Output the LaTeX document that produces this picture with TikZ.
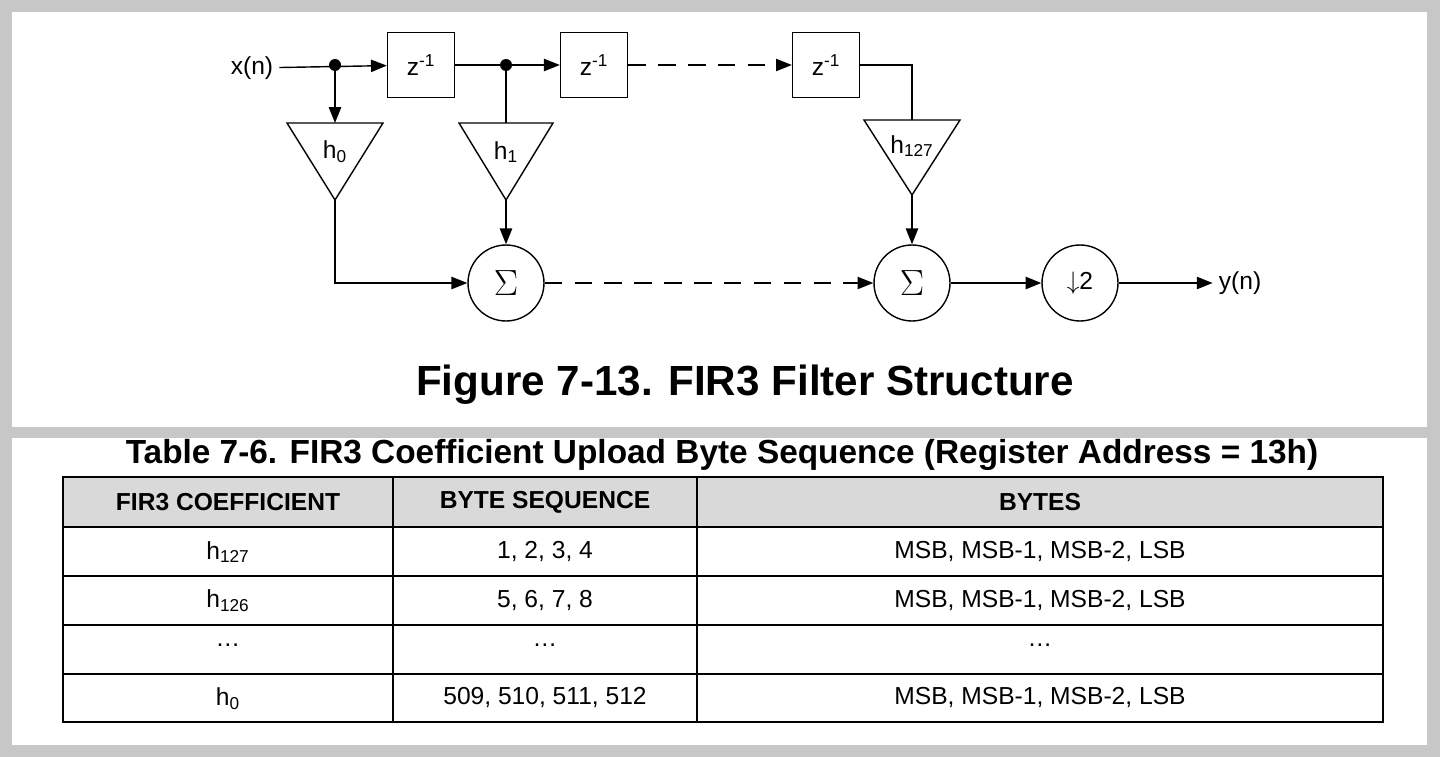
\documentclass[tikz,border=0pt]{standalone}
\usepackage{fontspec}
\setmainfont{Liberation Sans}
\usetikzlibrary{positioning,arrows.meta}
\begin{document}
\begin{tikzpicture}[x=0.02cm,y=-0.02cm,>={Triangle[length=9pt,width=7pt]},
    every node/.style={font=\fontsize{14}{16}\selectfont},
    delay/.style={draw,thick,minimum width=1.34cm,minimum height=1.3cm,inner sep=0pt},
    adder/.style={draw,thick,circle,minimum size=1.52cm,inner sep=0pt},
    tap/.style={thick},
    cell/.style={font=\fontsize{14}{16}\selectfont}]
  \fill[black!22] (0,0) rectangle (1440,757);
  \fill[white] (12,12) rectangle (1427,427);
  \fill[white] (12,438) rectangle (1427,745);

  % delay line
  \node (xn) at (252,68) {x(n)};
  \coordinate (d0) at (335,65);
  \coordinate (d1) at (506,65);
  \node[delay] (z1) at (421,65) {z\textsuperscript{-1}};
  \node[delay] (z2) at (594,65) {z\textsuperscript{-1}};
  \node[delay] (z3) at (826,65) {z\textsuperscript{-1}};
  \coordinate (c3) at (912,65);

  % taps
  \draw[tap] (287,123) -- (383,123) -- (335,200) -- cycle;
  \node (h0) at (335,152) {h\textsubscript{0}};
  \coordinate (h0t) at (335,123); \coordinate (h0b) at (335,200);
  \draw[tap] (459,123) -- (553,123) -- (506,200) -- cycle;
  \node (h1) at (506,152) {h\textsubscript{1}};
  \coordinate (h1t) at (506,123); \coordinate (h1b) at (506,200);
  \draw[tap] (864,120) -- (960,120) -- (912,195) -- cycle;
  \node (h127) at (912,146) {h\textsubscript{127}};
  \coordinate (h2t) at (912,120); \coordinate (h2b) at (912,195);

  % adders
  \node[adder] (s1) at (506,283) {\fontsize{20}{20}\selectfont$\Sigma$};
  \node[adder] (s2) at (912,283) {\fontsize{20}{20}\selectfont$\Sigma$};
  \node[adder] (dec) at (1080,283) {$\downarrow$2};
  \node (yn) at (1240,283) {y(n)};

  % connections
  \draw[thick,->] (xn) -- (z1);
  \fill (d0) circle (6); \fill (d1) circle (6);
  \draw[thick,->] (d0) -- (h0t);
  \draw[thick,->] (z1) -- (z2);
  \draw[thick] (d1) -- (h1t);
  \draw[thick,dashed,dash pattern=on 10pt off 7pt,->] (z2) -- (z3);
  \draw[thick] (z3.east) -- (c3) -- (h2t);
  \draw[thick,->] (h0b) |- (s1);
  \draw[thick,->] (h1b) -- (s1);
  \draw[thick,->] (h2b) -- (s2);
  \draw[thick,dashed,dash pattern=on 10pt off 7pt,->] (s1) -- (s2);
  \draw[very thick,->] (s2) -- (dec);
  \draw[thick,->] (dec) -- (yn);

  \node[font=\bfseries\fontsize{24}{28}\selectfont] (cap) at (745,385) {Figure 7-13. FIR3 Filter Structure};
  \node[font=\bfseries\fontsize{19}{22}\selectfont] (ttl) at (722,455) {Table 7-6. FIR3 Coefficient Upload Byte Sequence (Register Address = 13h)};

  % table
  \fill[black!15] (63,477) rectangle (1383,527);
  \draw[thick] (63,477) rectangle (1383,722);
  \foreach \y in {527,576,625,674} \draw[thick] (63,\y) -- (1383,\y);
  \foreach \x in {393,697} \draw[thick] (\x,477) -- (\x,722);
  \node[font=\bfseries\fontsize{14}{16}\selectfont] at (228,502) {FIR3 COEFFICIENT};
  \node[font=\bfseries\fontsize{14}{16}\selectfont] at (545,502) {BYTE SEQUENCE};
  \node[font=\bfseries\fontsize{14}{16}\selectfont] at (1040,502) {BYTES};
  \node[cell] at (228,552) {h\textsubscript{127}};
  \node[cell] at (545,551) {1, 2, 3, 4};
  \node[cell] at (1040,551) {MSB, MSB-1, MSB-2, LSB};
  \node[cell] at (228,601) {h\textsubscript{126}};
  \node[cell] at (545,600) {5, 6, 7, 8};
  \node[cell] at (1040,600) {MSB, MSB-1, MSB-2, LSB};
  \node[cell] at (228,645) {\dots};
  \node[cell] at (545,645) {\dots};
  \node[cell] at (1040,645) {\dots};
  \node[cell] at (228,699) {h\textsubscript{0}};
  \node[cell] at (545,697) {509, 510, 511, 512};
  \node[cell] at (1040,697) {MSB, MSB-1, MSB-2, LSB};
\end{tikzpicture}
\end{document}
